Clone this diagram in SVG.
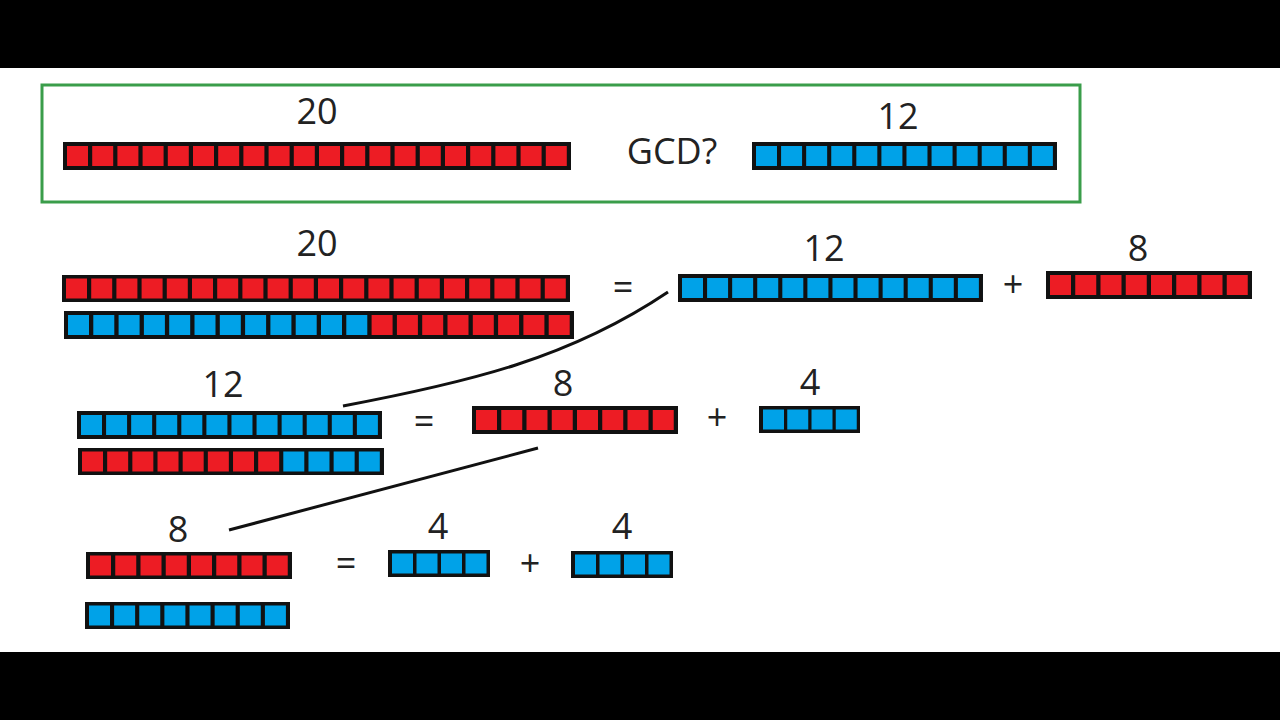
<svg xmlns="http://www.w3.org/2000/svg" width="1280" height="720" viewBox="0 0 1280 720">
<style>
.t{font-family:"Open Sans","Liberation Sans",sans-serif;font-size:36px;fill:#222;text-anchor:middle}
.bar{fill:#111}
.r{stroke:#ed1c24;stroke-width:20;fill:none}
.b{stroke:#00a2e8;stroke-width:20;fill:none}
</style>
<rect width="1280" height="720" fill="#fff"/>
<rect x="0" y="0" width="1280" height="68" fill="#000"/>
<rect x="0" y="652" width="1280" height="68" fill="#000"/>
<rect x="42" y="85" width="1038" height="117" fill="none" stroke="#3a9d4a" stroke-width="3"/>
<g id="connectors" stroke="#111" stroke-width="3" fill="none">
<path d="M668,292 C570,358 470,382 343,406"/>
<path d="M538,448 L229,530"/>
</g>
<g id="top">
<text class="t" x="317" y="124">20</text>
<rect class="bar" x="63" y="142" width="508" height="28"/><path class="r" d="M67,156H571" stroke-dasharray="21 4.2"/>
<text class="t" x="672" y="164">GCD?</text>
<text class="t" x="898" y="129">12</text>
<rect class="bar" x="752" y="142" width="305" height="28"/><path class="b" d="M756,156H1057" stroke-dasharray="21 4.08"/>
</g>
<g id="row2">
<text class="t" x="317" y="256">20</text>
<rect class="bar" x="62" y="275" width="508" height="27"/><path class="r" d="M66,288.5H570" stroke-dasharray="21 4.2"/>
<rect class="bar" x="64" y="311" width="510" height="28"/><path class="b" d="M68,325H371.6" stroke-dasharray="21 4.3"/><path class="r" d="M371.6,325H574" stroke-dasharray="21 4.3"/>
<text class="t" x="623" y="300">=</text>
<text class="t" x="824" y="261">12</text>
<rect class="bar" x="678" y="274" width="305" height="28"/><path class="b" d="M682,288H983" stroke-dasharray="21 4.08"/>
<text class="t" x="1013" y="297">+</text>
<text class="t" x="1138" y="261">8</text>
<rect class="bar" x="1046" y="271" width="206" height="28"/><path class="r" d="M1050,285H1252" stroke-dasharray="21 4.25"/>
</g>
<g id="row3">
<text class="t" x="223" y="397">12</text>
<rect class="bar" x="77" y="411" width="305" height="28"/><path class="b" d="M81,425H382" stroke-dasharray="21 4.08"/>
<rect class="bar" x="78" y="448" width="306" height="27"/><path class="r" d="M82,461.5H283.3" stroke-dasharray="21 4.17"/><path class="b" d="M283.3,461.5H384" stroke-dasharray="21 4.17"/>
<text class="t" x="424" y="434">=</text>
<text class="t" x="563" y="396">8</text>
<rect class="bar" x="472" y="406" width="206" height="28"/><path class="r" d="M476,420H678" stroke-dasharray="21 4.25"/>
<text class="t" x="717" y="430">+</text>
<text class="t" x="810" y="395">4</text>
<rect class="bar" x="759" y="406" width="101" height="27"/><path class="b" d="M763,419.5H860" stroke-dasharray="21 3.25"/>
</g>
<g id="row4">
<text class="t" x="178" y="542">8</text>
<rect class="bar" x="86" y="552" width="206" height="27"/><path class="r" d="M90,565.5H292" stroke-dasharray="21 4.25"/>
<rect class="bar" x="85" y="602" width="205" height="27"/><path class="b" d="M89,615.5H290" stroke-dasharray="21 4.13"/>
<text class="t" x="346" y="576">=</text>
<text class="t" x="438" y="539">4</text>
<rect class="bar" x="388" y="550" width="102" height="27"/><path class="b" d="M392,563.5H490" stroke-dasharray="21 3.5"/>
<text class="t" x="530" y="576">+</text>
<text class="t" x="622" y="539">4</text>
<rect class="bar" x="571" y="551" width="102" height="27"/><path class="b" d="M575,564.5H673" stroke-dasharray="21 3.5"/>
</g>
</svg>
